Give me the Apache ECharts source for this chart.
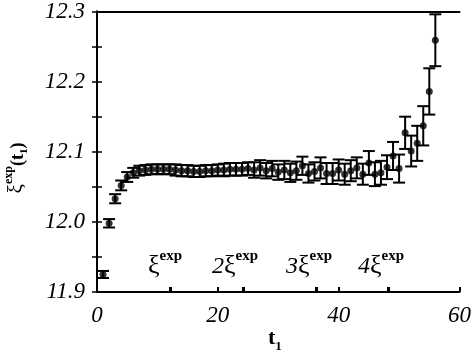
<!DOCTYPE html>
<html>
<head>
<meta charset="utf-8">
<script src="https://cdn.jsdelivr.net/npm/echarts@6/dist/echarts.min.js"></script>
<style>html,body{margin:0;padding:0;background:#fff}#c{width:474px;height:356px}</style>
</head>
<body>
<div id="c"></div>
<script>
// ---- data ----
const t1 = [1,2,3,4,5,6,7,8,9,10,11,12,13,14,15,16,17,18,19,20,21,22,23,24,25,26,27,28,29,30,31,32,33,34,35,36,37,38,39,40,41,42,43,44,45,46,47,48,49,50,51,52,53,54,55,56];
const xiExp = [11.925,11.998,12.033,12.052,12.064,12.070,12.073,12.074,12.075,12.075,12.075,12.075,12.074,12.073,12.073,12.072,12.072,12.073,12.073,12.074,12.074,12.075,12.075,12.075,12.076,12.074,12.077,12.073,12.076,12.071,12.074,12.070,12.073,12.080,12.069,12.072,12.077,12.069,12.069,12.074,12.068,12.073,12.077,12.068,12.084,12.068,12.070,12.078,12.094,12.076,12.127,12.101,12.112,12.137,12.186,12.259];
const xiErr = [0.005,0.006,0.0065,0.007,0.007,0.007,0.007,0.007,0.007,0.007,0.007,0.007,0.008,0.008,0.008,0.008,0.008,0.008,0.008,0.008,0.009,0.009,0.009,0.009,0.009,0.011,0.011,0.011,0.011,0.011,0.013,0.013,0.013,0.013,0.013,0.013,0.015,0.015,0.015,0.015,0.015,0.015,0.015,0.015,0.017,0.017,0.017,0.017,0.020,0.020,0.023,0.022,0.025,0.028,0.033,0.037];
const xTickLabels = [0,20,40,60];
const yTickLabels = ['11.9','12.0','12.1','12.2','12.3'];
const xiMarks = [12.07,24.14,36.21,48.28];
const annotationNums = ['','2','3','4'];

const serif = "'Liberation Serif','DejaVu Serif',serif";
const chart = echarts.init(document.getElementById('c'));

const axisLine = {show:true, lineStyle:{color:'#000', width:2}};
const errData = t1.map((t,i)=>[t, xiExp[i], xiErr[i]]);
const ptData = t1.map((t,i)=>[t, xiExp[i]]);

const annX = [148, 212, 286, 358];
const graphics = annotationNums.map((a,i)=>({
  type:'text', left: annX[i], top: 249,
  style:{
    text: (a ? '{n|'+a+'}' : '') + '{m|ξ}{s|exp}',
    rich:{
      n:{fontFamily:serif, fontStyle:'italic', fontSize:24, fill:'#000', lineHeight:30, verticalAlign:'bottom'},
      m:{fontFamily:serif, fontSize:26, fill:'#000', lineHeight:30, verticalAlign:'bottom'},
      s:{fontFamily:serif, fontWeight:'bold', fontSize:15, fill:'#000', lineHeight:30, verticalAlign:'top'}
    }
  }
}));
graphics.push({
  type:'text', x:15, y:168, rotation:Math.PI/2,
  style:{
    text:'{m|ξ}{s|exp}{b|(t}{u|1}{b|)}',
    align:'center', verticalAlign:'middle',
    rich:{
      m:{fontFamily:serif, fontSize:21, fill:'#000', lineHeight:24, verticalAlign:'bottom'},
      s:{fontFamily:serif, fontWeight:'bold', fontSize:12, fill:'#000', lineHeight:24, verticalAlign:'top'},
      b:{fontFamily:serif, fontWeight:'bold', fontSize:18, fill:'#000', lineHeight:24, verticalAlign:'bottom'},
      u:{fontFamily:serif, fontWeight:'bold', fontSize:11, fill:'#000', lineHeight:24, verticalAlign:'bottom', padding:[0,0,-3,0]}
    }
  }
});
graphics.push({
  type:'text', left: 268, top: 327,
  style:{
    text:'{b|t}{u|1}',
    rich:{
      b:{fontFamily:serif, fontWeight:'bold', fontSize:22, fill:'#000', lineHeight:26, verticalAlign:'bottom'},
      u:{fontFamily:serif, fontWeight:'bold', fontSize:13, fill:'#000', lineHeight:26, verticalAlign:'bottom', padding:[0,0,-4,0]}
    }
  }
});

chart.setOption({
  animation:false,
  backgroundColor:'#fff',
  grid:{left:97, right:14, top:9, bottom:64},
  xAxis:[
    {type:'value', min:0, max:60, interval:20, position:'bottom',
     axisLine, splitLine:{show:false},
     axisTick:{show:true, inside:true, length:5, lineStyle:{color:'#000', width:2}},
     axisLabel:{show:true, margin:12, color:'#000', fontFamily:serif, fontStyle:'italic', fontSize:23,
       customValues:xTickLabels, formatter:v=>String(v)}},
    {type:'value', min:0, max:60, position:'top',
     axisLine, splitLine:{show:false}, axisTick:{show:false}, axisLabel:{show:false}},
    {type:'value', min:0, max:60, position:'bottom',
     axisLine:{show:false}, splitLine:{show:false},
     axisTick:{show:true, inside:true, length:5, customValues:xiMarks, lineStyle:{color:'#000', width:3}},
     axisLabel:{show:false}}
  ],
  yAxis:[
    {type:'value', min:11.9, max:12.3, interval:0.1, position:'left',
     axisLine, splitLine:{show:false},
     axisTick:{show:true, inside:true, length:5, lineStyle:{color:'#000', width:1.5}},
     minorTick:{show:true, splitNumber:2, length:5, lineStyle:{color:'#000', width:1.5}},
     axisLabel:{margin:12, color:'#000', fontFamily:serif, fontStyle:'italic', fontSize:23,
       formatter:(v)=>{const s=v.toFixed(1); return yTickLabels.includes(s)?s:'';}}},
    {type:'value', min:11.9, max:12.3, interval:0.1, position:'right',
     axisLine, splitLine:{show:false},
     axisTick:{show:true, inside:true, length:5, lineStyle:{color:'#000', width:1.5}},
     minorTick:{show:true, splitNumber:2, length:5, lineStyle:{color:'#000', width:1.5}},
     axisLabel:{show:false}}
  ],
  graphic: graphics,
  series:[
    {type:'custom', xAxisIndex:0, yAxisIndex:0, data:errData, z:2,
     renderItem:(params, api)=>{
       const x=api.value(0), y=api.value(1), e=api.value(2);
       const top=api.coord([x,y+e]), bot=api.coord([x,y-e]);
       const w=6, st={stroke:'#000', lineWidth:2};
       return {type:'group', children:[
         {type:'line', shape:{x1:top[0],y1:top[1],x2:bot[0],y2:bot[1]}, style:st},
         {type:'line', shape:{x1:top[0]-w,y1:top[1],x2:top[0]+w,y2:top[1]}, style:st},
         {type:'line', shape:{x1:bot[0]-w,y1:bot[1],x2:bot[0]+w,y2:bot[1]}, style:st}
       ]};
     }},
    {type:'scatter', xAxisIndex:0, yAxisIndex:0, data:ptData, symbol:'circle', symbolSize:7,
     itemStyle:{color:'#000'}, z:3}
  ]
});
</script>
</body>
</html>
